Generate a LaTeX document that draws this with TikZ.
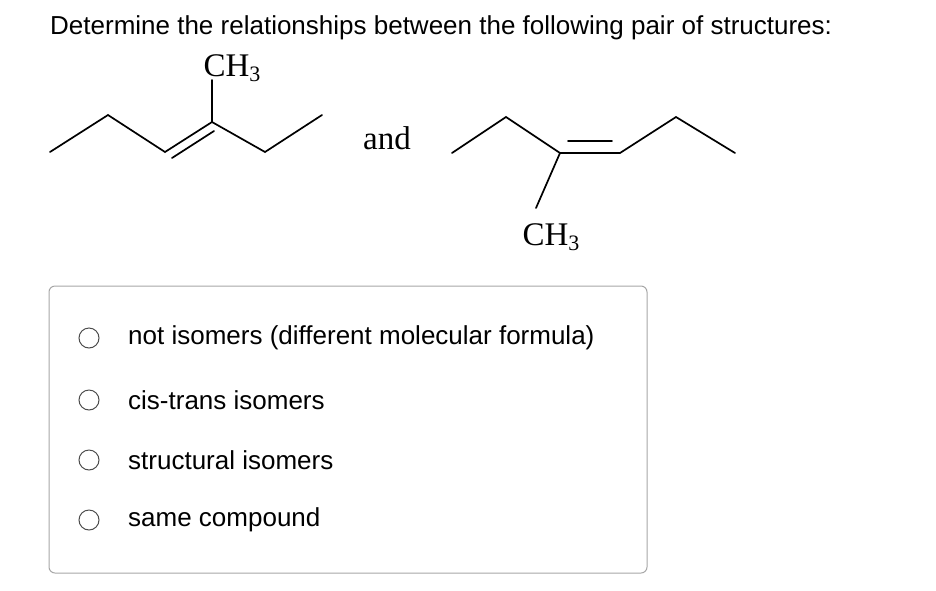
\documentclass[tikz,border=0pt]{standalone}
\usepackage{fontspec}
\setmainfont{Liberation Sans}
\newfontfamily\chemfont{Liberation Serif}
\newcommand{\subthree}{\raisebox{-0.35ex}{\fontsize{22}{24}\selectfont 3}}
\begin{document}
\begin{tikzpicture}[x=1pt,y=-1pt,
  bond/.style={line width=1.7pt,line cap=round},
  chem/.style={font=\chemfont\fontsize{33}{36}\selectfont,inner sep=0pt},
  opt/.style={font=\fontsize{26}{30}\selectfont,anchor=west,inner sep=0pt},
  radio/.style={circle,draw=black!70,line width=1pt,minimum size=20pt,inner sep=0pt}]
\useasboundingbox (0,0) rectangle (936,590);
\node[anchor=west,inner sep=0pt,font=\fontsize{26}{30}\selectfont] (title) at (50,28) {Determine the relationships between the following pair of structures:};
% left molecule
\coordinate (a1) at (50,152); \coordinate (a2) at (108,115); \coordinate (a3) at (165,152);
\coordinate (a4) at (212,122); \coordinate (a5) at (265,152); \coordinate (a6) at (322,115);
\coordinate (am) at (212,80);
\draw[bond] (a1)--(a2)--(a3)--(a4)--(a5)--(a6);
\draw[bond] (a4)--(am);
\draw[bond] (172,158)--(214,131);
\node[chem] (ch1) at (232,68) {CH\subthree};
\node[chem] (and) at (387,138) {and};
% right molecule
\coordinate (b1) at (452,153); \coordinate (b2) at (506,117); \coordinate (b3) at (560,153);
\coordinate (b4) at (620,153); \coordinate (b5) at (676,117); \coordinate (b6) at (735,153);
\coordinate (bm) at (536,208);
\draw[bond] (b1)--(b2)--(b3)--(b4)--(b5)--(b6);
\draw[bond] (b3)--(bm);
\draw[bond] (568,141)--(612,141);
\node[chem] (ch2) at (551,237) {CH\subthree};
% answer box
\draw[black!35,line width=1pt,rounded corners=6pt] (49,286) rectangle (647,573);
\foreach \y/\t [count=\i] in {338/not isomers (different molecular formula),400/cis-trans isomers,460/structural isomers,520/same compound}{
  \node[radio] (r\i) at (89,\y) {};
  \node[opt] (o\i) at (128,\y) {\t};
}
\end{tikzpicture}
\end{document}
